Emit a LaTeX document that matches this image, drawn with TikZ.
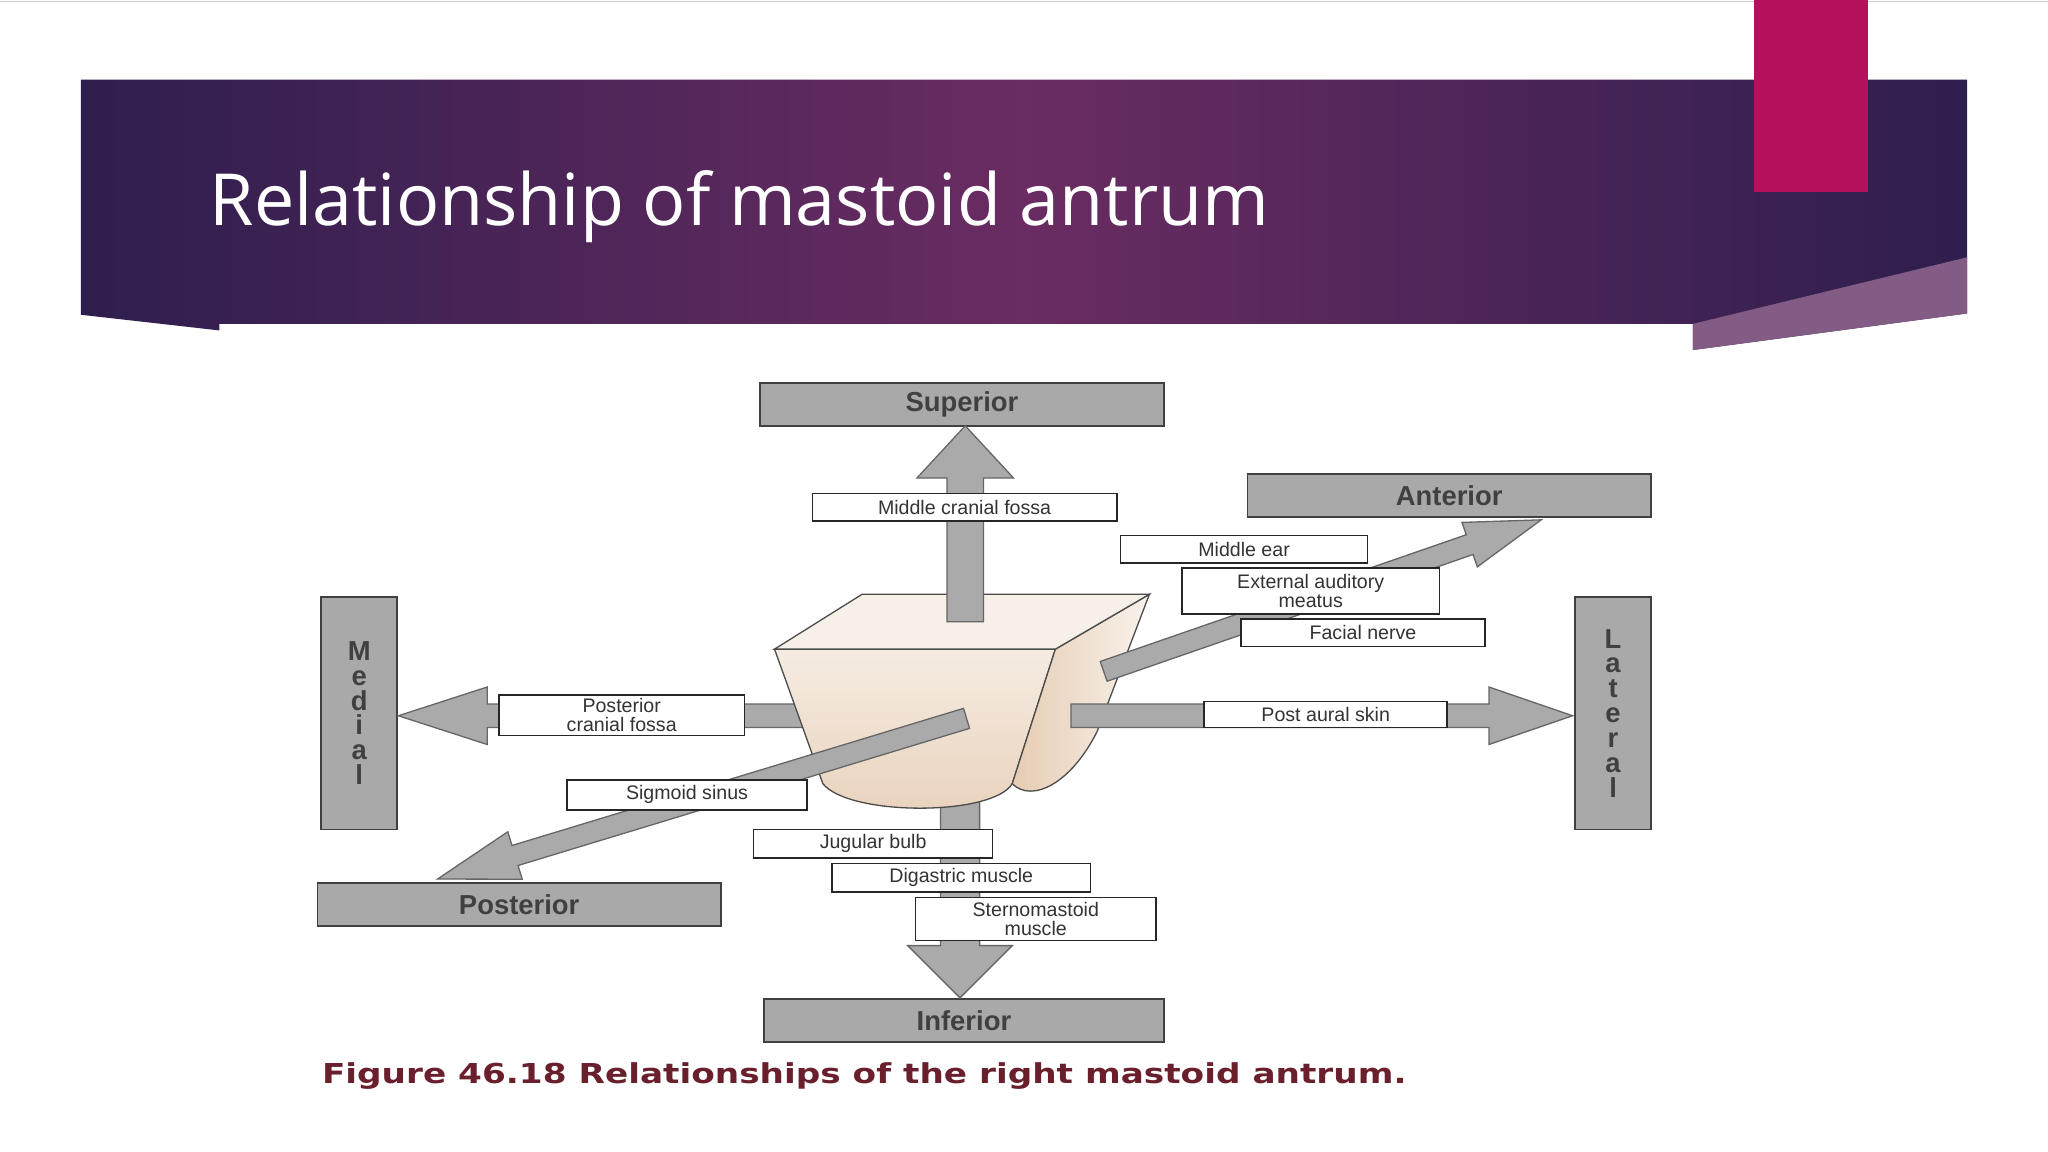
\documentclass[tikz,border=0pt]{standalone}
\usepackage{fontspec}
\usepackage{graphicx}
\setmainfont{Liberation Sans}
\newfontfamily\titlefont{Open Sans}
\newfontfamily\capfont{DejaVu Sans}
\usetikzlibrary{calc}
\definecolor{boxgray}{HTML}{A9A9A9}
\definecolor{arrgray}{HTML}{AAAAAA}
\definecolor{capred}{HTML}{6A1F2C}
\definecolor{pinkbar}{HTML}{B5125E}
\definecolor{banA}{HTML}{2E1E4E}
\definecolor{banB}{HTML}{6A2C62}
\tikzset{
 dirbox/.style={draw=black!75,line width=1.3pt,fill=boxgray,font=\fontsize{21}{21}\selectfont\bfseries,text=black!75,inner sep=0pt},
 lab/.style={draw=black!85,line width=1.2pt,fill=white,font=\fontsize{15}{14}\selectfont,text=black!80,inner sep=0pt,align=center},
 fat/.style={fill=arrgray,draw=black!60,line width=1pt,line join=miter}
}
\newcommand{\fatarrow}[5]{% start, tip, shaft half width, head half width, head length
 \coordinate (hh) at ($(#2)!#5pt!(#1)$);
 \filldraw[fat] ($(#1)!#3pt!90:(#2)$) -- ($(hh)!#3pt!90:(#2)$) -- ($(hh)!#4pt!90:(#2)$) -- (#2)
  -- ($(hh)!#4pt!-90:(#2)$) -- ($(hh)!#3pt!-90:(#2)$) -- ($(#1)!#3pt!-90:(#2)$) -- cycle;}
\begin{document}
\begin{tikzpicture}[x=1pt,y=-1pt]
\useasboundingbox[fill=white] (0,0) rectangle (1568,882);
\draw[black!20,line width=1pt] (0,1) -- (1568,1);
% banner
\shade[left color=banA,right color=banA,middle color=banB] (62,61) -- (1506,61) -- (1506,240) -- (1296,268) -- (1296,248) -- (168,248) -- (168,253) -- (62,241) -- cycle;
\fill[banB!70!white!80!banA] (1296,248) -- (1506,197) -- (1506,240) -- (1296,268) -- cycle;
\fill[pinkbar] (1343,0) rectangle (1430,147);
\node[anchor=west,text=white,font=\titlefont\fontsize{55}{55}\selectfont] (title) at (157,158) {Relationship of mastoid antrum};
% direction boxes
\node[dirbox,minimum width=309pt,minimum height=33pt] (sup) at (736.5,309.5) {Superior};
\node[dirbox,minimum width=309pt,minimum height=33pt] (ant) at (1109.5,379.5) {Anterior};
\node[dirbox,minimum width=309pt,minimum height=33pt] (post) at (397.5,692.5) {Posterior};
\node[dirbox,minimum width=306pt,minimum height=33pt] (inf) at (738,781.5) {Inferior};
\node[dirbox,minimum width=58pt,minimum height=178pt,align=center,font=\fontsize{21}{19}\selectfont\bfseries] (med) at (275,546) {M\\e\\d\\i\\a\\l};
\node[dirbox,minimum width=58pt,minimum height=178pt,align=center,font=\fontsize{21}{19}\selectfont\bfseries] (lat) at (1235,546) {L\\a\\t\\e\\r\\a\\l};
% arrows behind block
\coordinate (lS) at (640,548); \coordinate (lT) at (305,548);
\fatarrow{lS}{lT}{9}{22}{68}
\coordinate (dS) at (735,600); \coordinate (dT) at (735,764);
\fatarrow{dS}{dT}{15}{40}{40}
% block
\shade[top color=white!85!brown,bottom color=brown!35!white,draw=black!70,line width=1pt] (593,497) -- (808,497) -- (775,600) .. controls (760,625) and (650,625) .. (630,600) -- cycle;
\shade[left color=brown!40!white,right color=white!90!brown,draw=black!70,line width=1pt] (808,497) -- (880,455) -- (840,560) .. controls (820,600) and (790,615) .. (775,600) -- cycle;
\filldraw[fill=white!88!brown,draw=black!70,line width=1pt] (593,497) -- (660,455) -- (880,455) -- (808,497) -- cycle;
% arrows in front
\coordinate (uS) at (739,476); \coordinate (uT) at (739,326);
\fatarrow{uS}{uT}{14}{37}{40}
\coordinate (rS) at (820,548); \coordinate (rT) at (1204,548);
\fatarrow{rS}{rT}{9}{22}{64}
\coordinate (aS) at (845,514); \coordinate (aT) at (1180,398);
\fatarrow{aS}{aT}{8}{18}{58}
\coordinate (pS) at (740,550); \coordinate (pT) at (335,673);
\fatarrow{pS}{pT}{8}{19}{62}
% labels
\node[lab,minimum width=233pt,minimum height=21pt] (mcf) at (738.5,388.5) {Middle cranial fossa};
\node[lab,minimum width=189pt,minimum height=21pt] (me) at (952.5,420.5) {Middle ear};
\node[lab,minimum width=197pt,minimum height=35pt] (eam) at (1003.5,452.5) {External auditory\\meatus};
\node[lab,minimum width=187pt,minimum height=21pt] (fn) at (1043.5,484.5) {Facial nerve};
\node[lab,minimum width=188pt,minimum height=31pt] (pcf) at (476,547.5) {Posterior\\cranial fossa};
\node[lab,minimum width=186pt,minimum height=20pt] (pas) at (1015,547) {Post aural skin};
\node[lab,minimum width=184pt,minimum height=23pt] (ss) at (526,608.5) {Sigmoid sinus};
\node[lab,minimum width=183pt,minimum height=22pt] (jb) at (668.5,646) {Jugular bulb};
\node[lab,minimum width=198pt,minimum height=22pt] (dm) at (736,672) {Digastric muscle};
\node[lab,minimum width=184pt,minimum height=33pt] (sm) at (793,703.5) {Sternomastoid\\muscle};
\node[anchor=west,text=capred,font=\capfont\fontsize{21}{21}\selectfont\bfseries] (cap) at (243,824) {\scalebox{1.25}[1]{Figure 46.18 Relationships of the right mastoid antrum.}};
\end{tikzpicture}
\end{document}
